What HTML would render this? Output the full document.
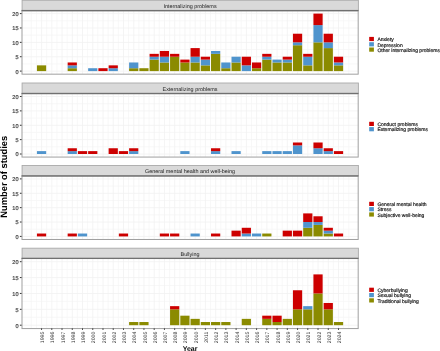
<!DOCTYPE html>
<html><head><meta charset="utf-8"><style>
html,body{margin:0;padding:0;background:#fff;width:440px;height:351px;overflow:hidden}
svg{display:block;will-change:transform;font-family:"Liberation Sans",sans-serif}
text{stroke-width:0.18;paint-order:stroke;text-rendering:geometricPrecision}
</style></head><body>
<svg width="440" height="351" viewBox="0 0 440 351">
<rect x="0" y="0" width="440" height="351" fill="#fff"/>
<path d="M21.58 63.91H358.48M21.58 49.54H358.48M21.58 35.16H358.48M21.58 20.79H358.48M31.31 10.72V73.97M36.43 10.72V73.97M46.67 10.72V73.97M56.91 10.72V73.97M67.15 10.72V73.97M77.39 10.72V73.97M87.63 10.72V73.97M97.87 10.72V73.97M108.11 10.72V73.97M118.35 10.72V73.97M128.59 10.72V73.97M138.83 10.72V73.97M149.07 10.72V73.97M159.31 10.72V73.97M169.55 10.72V73.97M179.79 10.72V73.97M190.03 10.72V73.97M200.27 10.72V73.97M210.51 10.72V73.97M220.75 10.72V73.97M230.99 10.72V73.97M241.23 10.72V73.97M251.47 10.72V73.97M261.71 10.72V73.97M271.95 10.72V73.97M282.19 10.72V73.97M292.43 10.72V73.97M302.67 10.72V73.97M312.91 10.72V73.97M323.15 10.72V73.97M333.39 10.72V73.97M343.63 10.72V73.97M348.75 10.72V73.97" stroke="#f5f5f5" stroke-width="0.7" fill="none"/>
<path d="M21.58 71.10H358.48M21.58 56.72H358.48M21.58 42.35H358.48M21.58 27.97H358.48M21.58 13.60H358.48M41.55 10.72V73.97M51.79 10.72V73.97M62.03 10.72V73.97M72.27 10.72V73.97M82.51 10.72V73.97M92.75 10.72V73.97M102.99 10.72V73.97M113.23 10.72V73.97M123.47 10.72V73.97M133.71 10.72V73.97M143.95 10.72V73.97M154.19 10.72V73.97M164.43 10.72V73.97M174.67 10.72V73.97M184.91 10.72V73.97M195.15 10.72V73.97M205.39 10.72V73.97M215.63 10.72V73.97M225.87 10.72V73.97M236.11 10.72V73.97M246.35 10.72V73.97M256.59 10.72V73.97M266.83 10.72V73.97M277.07 10.72V73.97M287.31 10.72V73.97M297.55 10.72V73.97M307.79 10.72V73.97M318.03 10.72V73.97M328.27 10.72V73.97M338.51 10.72V73.97" stroke="#f1f1f1" stroke-width="0.8" fill="none"/>
<rect x="36.94" y="65.35" width="9.22" height="5.75" fill="#8B8B00"/>
<rect x="67.66" y="68.22" width="9.22" height="2.88" fill="#8B8B00"/>
<rect x="67.66" y="65.35" width="9.22" height="2.88" fill="#4F94CD"/>
<rect x="67.66" y="62.47" width="9.22" height="2.88" fill="#CD0000"/>
<rect x="88.14" y="68.22" width="9.22" height="2.88" fill="#4F94CD"/>
<rect x="98.38" y="68.22" width="9.22" height="2.88" fill="#CD0000"/>
<rect x="108.62" y="68.22" width="9.22" height="2.88" fill="#4F94CD"/>
<rect x="108.62" y="65.35" width="9.22" height="2.88" fill="#CD0000"/>
<rect x="129.10" y="68.22" width="9.22" height="2.88" fill="#8B8B00"/>
<rect x="129.10" y="62.47" width="9.22" height="5.75" fill="#4F94CD"/>
<rect x="139.34" y="68.22" width="9.22" height="2.88" fill="#8B8B00"/>
<rect x="149.58" y="59.60" width="9.22" height="11.50" fill="#8B8B00"/>
<rect x="149.58" y="56.72" width="9.22" height="2.88" fill="#4F94CD"/>
<rect x="149.58" y="53.85" width="9.22" height="2.88" fill="#CD0000"/>
<rect x="159.82" y="62.47" width="9.22" height="8.62" fill="#8B8B00"/>
<rect x="159.82" y="56.72" width="9.22" height="5.75" fill="#4F94CD"/>
<rect x="159.82" y="50.97" width="9.22" height="5.75" fill="#CD0000"/>
<rect x="170.06" y="56.72" width="9.22" height="14.38" fill="#8B8B00"/>
<rect x="170.06" y="53.85" width="9.22" height="2.88" fill="#CD0000"/>
<rect x="180.30" y="62.47" width="9.22" height="8.62" fill="#8B8B00"/>
<rect x="180.30" y="59.60" width="9.22" height="2.88" fill="#CD0000"/>
<rect x="190.54" y="62.47" width="9.22" height="8.62" fill="#8B8B00"/>
<rect x="190.54" y="56.72" width="9.22" height="5.75" fill="#4F94CD"/>
<rect x="190.54" y="48.10" width="9.22" height="8.62" fill="#CD0000"/>
<rect x="200.78" y="65.35" width="9.22" height="5.75" fill="#8B8B00"/>
<rect x="200.78" y="59.60" width="9.22" height="5.75" fill="#4F94CD"/>
<rect x="200.78" y="56.72" width="9.22" height="2.88" fill="#CD0000"/>
<rect x="211.02" y="53.85" width="9.22" height="17.25" fill="#8B8B00"/>
<rect x="211.02" y="50.97" width="9.22" height="2.88" fill="#4F94CD"/>
<rect x="221.26" y="68.22" width="9.22" height="2.88" fill="#8B8B00"/>
<rect x="221.26" y="62.47" width="9.22" height="5.75" fill="#4F94CD"/>
<rect x="231.50" y="62.47" width="9.22" height="8.62" fill="#8B8B00"/>
<rect x="231.50" y="56.72" width="9.22" height="5.75" fill="#4F94CD"/>
<rect x="241.74" y="65.35" width="9.22" height="5.75" fill="#4F94CD"/>
<rect x="241.74" y="56.72" width="9.22" height="8.62" fill="#CD0000"/>
<rect x="251.98" y="68.22" width="9.22" height="2.88" fill="#8B8B00"/>
<rect x="251.98" y="62.47" width="9.22" height="5.75" fill="#CD0000"/>
<rect x="262.22" y="59.60" width="9.22" height="11.50" fill="#8B8B00"/>
<rect x="262.22" y="56.72" width="9.22" height="2.88" fill="#4F94CD"/>
<rect x="262.22" y="53.85" width="9.22" height="2.88" fill="#CD0000"/>
<rect x="272.46" y="62.47" width="9.22" height="8.62" fill="#8B8B00"/>
<rect x="272.46" y="59.60" width="9.22" height="2.88" fill="#4F94CD"/>
<rect x="282.70" y="62.47" width="9.22" height="8.62" fill="#8B8B00"/>
<rect x="282.70" y="59.60" width="9.22" height="2.88" fill="#4F94CD"/>
<rect x="282.70" y="56.72" width="9.22" height="2.88" fill="#CD0000"/>
<rect x="292.94" y="45.22" width="9.22" height="25.88" fill="#8B8B00"/>
<rect x="292.94" y="42.35" width="9.22" height="2.88" fill="#4F94CD"/>
<rect x="292.94" y="33.72" width="9.22" height="8.62" fill="#CD0000"/>
<rect x="303.18" y="65.35" width="9.22" height="5.75" fill="#8B8B00"/>
<rect x="303.18" y="56.72" width="9.22" height="8.62" fill="#4F94CD"/>
<rect x="303.18" y="53.85" width="9.22" height="2.88" fill="#CD0000"/>
<rect x="313.42" y="42.35" width="9.22" height="28.75" fill="#8B8B00"/>
<rect x="313.42" y="25.10" width="9.22" height="17.25" fill="#4F94CD"/>
<rect x="313.42" y="13.60" width="9.22" height="11.50" fill="#CD0000"/>
<rect x="323.66" y="48.10" width="9.22" height="23.00" fill="#8B8B00"/>
<rect x="323.66" y="42.35" width="9.22" height="5.75" fill="#4F94CD"/>
<rect x="323.66" y="33.72" width="9.22" height="8.62" fill="#CD0000"/>
<rect x="333.90" y="65.35" width="9.22" height="5.75" fill="#8B8B00"/>
<rect x="333.90" y="62.47" width="9.22" height="2.88" fill="#4F94CD"/>
<rect x="333.90" y="56.72" width="9.22" height="5.75" fill="#CD0000"/>
<rect x="22.00" y="10.72" width="336.18" height="63.45" fill="none" stroke="#a0a0a0" stroke-width="1.0"/>
<rect x="22.08" y="0.30" width="336.30" height="10.42" fill="#d9d9d9" stroke="#a9a9a9" stroke-width="0.9"/>
<rect x="21.58" y="9.92" width="336.90" height="1.3" fill="#707070"/>
<text x="190.03" y="7.90" font-size="5.45" text-anchor="middle" fill="#222" stroke="none">Internalizing problems</text>
<path d="M19.9 71.10H21.58" stroke="#333" stroke-width="1"/>
<text x="18.5" y="73.50" font-size="5.6" text-anchor="end" fill="#444" stroke="#444" stroke-width="0.06">0</text>
<path d="M19.9 56.72H21.58" stroke="#333" stroke-width="1"/>
<text x="18.5" y="59.12" font-size="5.6" text-anchor="end" fill="#444" stroke="#444" stroke-width="0.06">5</text>
<path d="M19.9 42.35H21.58" stroke="#333" stroke-width="1"/>
<text x="18.5" y="44.75" font-size="5.6" text-anchor="end" fill="#444" stroke="#444" stroke-width="0.06">10</text>
<path d="M19.9 27.97H21.58" stroke="#333" stroke-width="1"/>
<text x="18.5" y="30.37" font-size="5.6" text-anchor="end" fill="#444" stroke="#444" stroke-width="0.06">15</text>
<path d="M19.9 13.60H21.58" stroke="#333" stroke-width="1"/>
<text x="18.5" y="16.00" font-size="5.6" text-anchor="end" fill="#444" stroke="#444" stroke-width="0.06">20</text>
<rect x="369.2" y="36.90" width="4.7" height="4.2" fill="#CD0000"/>
<text x="377.4" y="41.20" font-size="5.0" fill="#1a1a1a" stroke="#1a1a1a" stroke-width="0.1">Anxiety</text>
<rect x="369.2" y="42.20" width="4.7" height="4.2" fill="#4F94CD"/>
<text x="377.4" y="46.50" font-size="5.0" fill="#1a1a1a" stroke="#1a1a1a" stroke-width="0.1">Depression</text>
<rect x="369.2" y="47.50" width="4.7" height="4.2" fill="#8B8B00"/>
<text x="377.4" y="51.80" font-size="5.0" fill="#1a1a1a" stroke="#1a1a1a" stroke-width="0.1">Other internalizing problems</text>
<path d="M21.58 146.81H358.48M21.58 132.44H358.48M21.58 118.06H358.48M21.58 103.69H358.48M31.31 93.62V156.88M36.43 93.62V156.88M46.67 93.62V156.88M56.91 93.62V156.88M67.15 93.62V156.88M77.39 93.62V156.88M87.63 93.62V156.88M97.87 93.62V156.88M108.11 93.62V156.88M118.35 93.62V156.88M128.59 93.62V156.88M138.83 93.62V156.88M149.07 93.62V156.88M159.31 93.62V156.88M169.55 93.62V156.88M179.79 93.62V156.88M190.03 93.62V156.88M200.27 93.62V156.88M210.51 93.62V156.88M220.75 93.62V156.88M230.99 93.62V156.88M241.23 93.62V156.88M251.47 93.62V156.88M261.71 93.62V156.88M271.95 93.62V156.88M282.19 93.62V156.88M292.43 93.62V156.88M302.67 93.62V156.88M312.91 93.62V156.88M323.15 93.62V156.88M333.39 93.62V156.88M343.63 93.62V156.88M348.75 93.62V156.88" stroke="#f5f5f5" stroke-width="0.7" fill="none"/>
<path d="M21.58 154.00H358.48M21.58 139.62H358.48M21.58 125.25H358.48M21.58 110.88H358.48M21.58 96.50H358.48M41.55 93.62V156.88M51.79 93.62V156.88M62.03 93.62V156.88M72.27 93.62V156.88M82.51 93.62V156.88M92.75 93.62V156.88M102.99 93.62V156.88M113.23 93.62V156.88M123.47 93.62V156.88M133.71 93.62V156.88M143.95 93.62V156.88M154.19 93.62V156.88M164.43 93.62V156.88M174.67 93.62V156.88M184.91 93.62V156.88M195.15 93.62V156.88M205.39 93.62V156.88M215.63 93.62V156.88M225.87 93.62V156.88M236.11 93.62V156.88M246.35 93.62V156.88M256.59 93.62V156.88M266.83 93.62V156.88M277.07 93.62V156.88M287.31 93.62V156.88M297.55 93.62V156.88M307.79 93.62V156.88M318.03 93.62V156.88M328.27 93.62V156.88M338.51 93.62V156.88" stroke="#f1f1f1" stroke-width="0.8" fill="none"/>
<rect x="36.94" y="151.12" width="9.22" height="2.88" fill="#4F94CD"/>
<rect x="67.66" y="151.12" width="9.22" height="2.88" fill="#4F94CD"/>
<rect x="67.66" y="148.25" width="9.22" height="2.88" fill="#CD0000"/>
<rect x="77.90" y="151.12" width="9.22" height="2.88" fill="#CD0000"/>
<rect x="88.14" y="151.12" width="9.22" height="2.88" fill="#CD0000"/>
<rect x="108.62" y="148.25" width="9.22" height="5.75" fill="#CD0000"/>
<rect x="118.86" y="151.12" width="9.22" height="2.88" fill="#CD0000"/>
<rect x="129.10" y="151.12" width="9.22" height="2.88" fill="#4F94CD"/>
<rect x="129.10" y="148.25" width="9.22" height="2.88" fill="#CD0000"/>
<rect x="180.30" y="151.12" width="9.22" height="2.88" fill="#4F94CD"/>
<rect x="211.02" y="151.12" width="9.22" height="2.88" fill="#4F94CD"/>
<rect x="211.02" y="148.25" width="9.22" height="2.88" fill="#CD0000"/>
<rect x="231.50" y="151.12" width="9.22" height="2.88" fill="#4F94CD"/>
<rect x="262.22" y="151.12" width="9.22" height="2.88" fill="#4F94CD"/>
<rect x="272.46" y="151.12" width="9.22" height="2.88" fill="#4F94CD"/>
<rect x="282.70" y="151.12" width="9.22" height="2.88" fill="#4F94CD"/>
<rect x="292.94" y="145.38" width="9.22" height="8.62" fill="#4F94CD"/>
<rect x="292.94" y="142.50" width="9.22" height="2.88" fill="#CD0000"/>
<rect x="313.42" y="148.25" width="9.22" height="5.75" fill="#4F94CD"/>
<rect x="313.42" y="142.50" width="9.22" height="5.75" fill="#CD0000"/>
<rect x="323.66" y="151.12" width="9.22" height="2.88" fill="#4F94CD"/>
<rect x="323.66" y="148.25" width="9.22" height="2.88" fill="#CD0000"/>
<rect x="333.90" y="151.12" width="9.22" height="2.88" fill="#CD0000"/>
<rect x="22.00" y="93.62" width="336.18" height="63.45" fill="none" stroke="#a0a0a0" stroke-width="1.0"/>
<rect x="22.08" y="83.00" width="336.30" height="10.62" fill="#d9d9d9" stroke="#a9a9a9" stroke-width="0.9"/>
<rect x="21.58" y="92.83" width="336.90" height="1.3" fill="#707070"/>
<text x="190.03" y="90.60" font-size="5.45" text-anchor="middle" fill="#222" stroke="none">Externalizing problems</text>
<path d="M19.9 154.00H21.58" stroke="#333" stroke-width="1"/>
<text x="18.5" y="156.40" font-size="5.6" text-anchor="end" fill="#444" stroke="#444" stroke-width="0.06">0</text>
<path d="M19.9 139.62H21.58" stroke="#333" stroke-width="1"/>
<text x="18.5" y="142.03" font-size="5.6" text-anchor="end" fill="#444" stroke="#444" stroke-width="0.06">5</text>
<path d="M19.9 125.25H21.58" stroke="#333" stroke-width="1"/>
<text x="18.5" y="127.65" font-size="5.6" text-anchor="end" fill="#444" stroke="#444" stroke-width="0.06">10</text>
<path d="M19.9 110.88H21.58" stroke="#333" stroke-width="1"/>
<text x="18.5" y="113.28" font-size="5.6" text-anchor="end" fill="#444" stroke="#444" stroke-width="0.06">15</text>
<path d="M19.9 96.50H21.58" stroke="#333" stroke-width="1"/>
<text x="18.5" y="98.90" font-size="5.6" text-anchor="end" fill="#444" stroke="#444" stroke-width="0.06">20</text>
<rect x="369.2" y="121.80" width="4.7" height="4.2" fill="#CD0000"/>
<text x="377.4" y="126.10" font-size="5.0" fill="#1a1a1a" stroke="#1a1a1a" stroke-width="0.1">Conduct problems</text>
<rect x="369.2" y="127.10" width="4.7" height="4.2" fill="#4F94CD"/>
<text x="377.4" y="131.40" font-size="5.0" fill="#1a1a1a" stroke="#1a1a1a" stroke-width="0.1">Externalizing problems</text>
<path d="M21.58 229.21H358.48M21.58 214.84H358.48M21.58 200.46H358.48M21.58 186.09H358.48M31.31 176.03V239.28M36.43 176.03V239.28M46.67 176.03V239.28M56.91 176.03V239.28M67.15 176.03V239.28M77.39 176.03V239.28M87.63 176.03V239.28M97.87 176.03V239.28M108.11 176.03V239.28M118.35 176.03V239.28M128.59 176.03V239.28M138.83 176.03V239.28M149.07 176.03V239.28M159.31 176.03V239.28M169.55 176.03V239.28M179.79 176.03V239.28M190.03 176.03V239.28M200.27 176.03V239.28M210.51 176.03V239.28M220.75 176.03V239.28M230.99 176.03V239.28M241.23 176.03V239.28M251.47 176.03V239.28M261.71 176.03V239.28M271.95 176.03V239.28M282.19 176.03V239.28M292.43 176.03V239.28M302.67 176.03V239.28M312.91 176.03V239.28M323.15 176.03V239.28M333.39 176.03V239.28M343.63 176.03V239.28M348.75 176.03V239.28" stroke="#f5f5f5" stroke-width="0.7" fill="none"/>
<path d="M21.58 236.40H358.48M21.58 222.03H358.48M21.58 207.65H358.48M21.58 193.28H358.48M21.58 178.90H358.48M41.55 176.03V239.28M51.79 176.03V239.28M62.03 176.03V239.28M72.27 176.03V239.28M82.51 176.03V239.28M92.75 176.03V239.28M102.99 176.03V239.28M113.23 176.03V239.28M123.47 176.03V239.28M133.71 176.03V239.28M143.95 176.03V239.28M154.19 176.03V239.28M164.43 176.03V239.28M174.67 176.03V239.28M184.91 176.03V239.28M195.15 176.03V239.28M205.39 176.03V239.28M215.63 176.03V239.28M225.87 176.03V239.28M236.11 176.03V239.28M246.35 176.03V239.28M256.59 176.03V239.28M266.83 176.03V239.28M277.07 176.03V239.28M287.31 176.03V239.28M297.55 176.03V239.28M307.79 176.03V239.28M318.03 176.03V239.28M328.27 176.03V239.28M338.51 176.03V239.28" stroke="#f1f1f1" stroke-width="0.8" fill="none"/>
<rect x="36.94" y="233.53" width="9.22" height="2.88" fill="#CD0000"/>
<rect x="67.66" y="233.53" width="9.22" height="2.88" fill="#CD0000"/>
<rect x="77.90" y="233.53" width="9.22" height="2.88" fill="#4F94CD"/>
<rect x="118.86" y="233.53" width="9.22" height="2.88" fill="#CD0000"/>
<rect x="159.82" y="233.53" width="9.22" height="2.88" fill="#CD0000"/>
<rect x="170.06" y="233.53" width="9.22" height="2.88" fill="#CD0000"/>
<rect x="190.54" y="233.53" width="9.22" height="2.88" fill="#4F94CD"/>
<rect x="211.02" y="233.53" width="9.22" height="2.88" fill="#CD0000"/>
<rect x="231.50" y="230.65" width="9.22" height="5.75" fill="#CD0000"/>
<rect x="241.74" y="233.53" width="9.22" height="2.88" fill="#4F94CD"/>
<rect x="241.74" y="227.78" width="9.22" height="5.75" fill="#CD0000"/>
<rect x="251.98" y="233.53" width="9.22" height="2.88" fill="#4F94CD"/>
<rect x="262.22" y="233.53" width="9.22" height="2.88" fill="#8B8B00"/>
<rect x="282.70" y="230.65" width="9.22" height="5.75" fill="#CD0000"/>
<rect x="292.94" y="230.65" width="9.22" height="5.75" fill="#CD0000"/>
<rect x="303.18" y="227.78" width="9.22" height="8.62" fill="#8B8B00"/>
<rect x="303.18" y="222.03" width="9.22" height="5.75" fill="#4F94CD"/>
<rect x="303.18" y="213.40" width="9.22" height="8.62" fill="#CD0000"/>
<rect x="313.42" y="224.90" width="9.22" height="11.50" fill="#8B8B00"/>
<rect x="313.42" y="222.03" width="9.22" height="2.88" fill="#4F94CD"/>
<rect x="313.42" y="216.28" width="9.22" height="5.75" fill="#CD0000"/>
<rect x="323.66" y="233.53" width="9.22" height="2.88" fill="#8B8B00"/>
<rect x="323.66" y="230.65" width="9.22" height="2.88" fill="#4F94CD"/>
<rect x="323.66" y="227.78" width="9.22" height="2.88" fill="#CD0000"/>
<rect x="333.90" y="233.53" width="9.22" height="2.88" fill="#CD0000"/>
<rect x="22.00" y="176.03" width="336.18" height="63.45" fill="none" stroke="#a0a0a0" stroke-width="1.0"/>
<rect x="22.08" y="165.50" width="336.30" height="10.53" fill="#d9d9d9" stroke="#a9a9a9" stroke-width="0.9"/>
<rect x="21.58" y="175.22" width="336.90" height="1.3" fill="#707070"/>
<text x="190.03" y="173.10" font-size="5.45" text-anchor="middle" fill="#222" stroke="none">General mental health and well-being</text>
<path d="M19.9 236.40H21.58" stroke="#333" stroke-width="1"/>
<text x="18.5" y="238.80" font-size="5.6" text-anchor="end" fill="#444" stroke="#444" stroke-width="0.06">0</text>
<path d="M19.9 222.03H21.58" stroke="#333" stroke-width="1"/>
<text x="18.5" y="224.43" font-size="5.6" text-anchor="end" fill="#444" stroke="#444" stroke-width="0.06">5</text>
<path d="M19.9 207.65H21.58" stroke="#333" stroke-width="1"/>
<text x="18.5" y="210.05" font-size="5.6" text-anchor="end" fill="#444" stroke="#444" stroke-width="0.06">10</text>
<path d="M19.9 193.28H21.58" stroke="#333" stroke-width="1"/>
<text x="18.5" y="195.68" font-size="5.6" text-anchor="end" fill="#444" stroke="#444" stroke-width="0.06">15</text>
<path d="M19.9 178.90H21.58" stroke="#333" stroke-width="1"/>
<text x="18.5" y="181.30" font-size="5.6" text-anchor="end" fill="#444" stroke="#444" stroke-width="0.06">20</text>
<rect x="369.2" y="201.80" width="4.7" height="4.2" fill="#CD0000"/>
<text x="377.4" y="206.10" font-size="5.0" fill="#1a1a1a" stroke="#1a1a1a" stroke-width="0.1">General mental health</text>
<rect x="369.2" y="207.10" width="4.7" height="4.2" fill="#4F94CD"/>
<text x="377.4" y="211.40" font-size="5.0" fill="#1a1a1a" stroke="#1a1a1a" stroke-width="0.1">Stress</text>
<rect x="369.2" y="212.40" width="4.7" height="4.2" fill="#8B8B00"/>
<text x="377.4" y="216.70" font-size="5.0" fill="#1a1a1a" stroke="#1a1a1a" stroke-width="0.1">Subjective well-being</text>
<path d="M21.58 317.26H358.48M21.58 301.39H358.48M21.58 285.51H358.48M21.58 269.64H358.48M31.31 258.52V328.38M36.43 258.52V328.38M46.67 258.52V328.38M56.91 258.52V328.38M67.15 258.52V328.38M77.39 258.52V328.38M87.63 258.52V328.38M97.87 258.52V328.38M108.11 258.52V328.38M118.35 258.52V328.38M128.59 258.52V328.38M138.83 258.52V328.38M149.07 258.52V328.38M159.31 258.52V328.38M169.55 258.52V328.38M179.79 258.52V328.38M190.03 258.52V328.38M200.27 258.52V328.38M210.51 258.52V328.38M220.75 258.52V328.38M230.99 258.52V328.38M241.23 258.52V328.38M251.47 258.52V328.38M261.71 258.52V328.38M271.95 258.52V328.38M282.19 258.52V328.38M292.43 258.52V328.38M302.67 258.52V328.38M312.91 258.52V328.38M323.15 258.52V328.38M333.39 258.52V328.38M343.63 258.52V328.38M348.75 258.52V328.38" stroke="#f5f5f5" stroke-width="0.7" fill="none"/>
<path d="M21.58 325.20H358.48M21.58 309.32H358.48M21.58 293.45H358.48M21.58 277.57H358.48M21.58 261.70H358.48M41.55 258.52V328.38M51.79 258.52V328.38M62.03 258.52V328.38M72.27 258.52V328.38M82.51 258.52V328.38M92.75 258.52V328.38M102.99 258.52V328.38M113.23 258.52V328.38M123.47 258.52V328.38M133.71 258.52V328.38M143.95 258.52V328.38M154.19 258.52V328.38M164.43 258.52V328.38M174.67 258.52V328.38M184.91 258.52V328.38M195.15 258.52V328.38M205.39 258.52V328.38M215.63 258.52V328.38M225.87 258.52V328.38M236.11 258.52V328.38M246.35 258.52V328.38M256.59 258.52V328.38M266.83 258.52V328.38M277.07 258.52V328.38M287.31 258.52V328.38M297.55 258.52V328.38M307.79 258.52V328.38M318.03 258.52V328.38M328.27 258.52V328.38M338.51 258.52V328.38" stroke="#f1f1f1" stroke-width="0.8" fill="none"/>
<rect x="129.10" y="322.02" width="9.22" height="3.17" fill="#8B8B00"/>
<rect x="139.34" y="322.02" width="9.22" height="3.17" fill="#8B8B00"/>
<rect x="170.06" y="309.32" width="9.22" height="15.88" fill="#8B8B00"/>
<rect x="170.06" y="306.15" width="9.22" height="3.17" fill="#CD0000"/>
<rect x="180.30" y="315.68" width="9.22" height="9.52" fill="#8B8B00"/>
<rect x="190.54" y="318.85" width="9.22" height="6.35" fill="#8B8B00"/>
<rect x="200.78" y="322.02" width="9.22" height="3.17" fill="#8B8B00"/>
<rect x="211.02" y="322.02" width="9.22" height="3.17" fill="#8B8B00"/>
<rect x="221.26" y="322.02" width="9.22" height="3.17" fill="#8B8B00"/>
<rect x="241.74" y="318.85" width="9.22" height="6.35" fill="#8B8B00"/>
<rect x="262.22" y="318.85" width="9.22" height="6.35" fill="#8B8B00"/>
<rect x="262.22" y="315.68" width="9.22" height="3.17" fill="#CD0000"/>
<rect x="272.46" y="322.02" width="9.22" height="3.17" fill="#8B8B00"/>
<rect x="272.46" y="315.68" width="9.22" height="6.35" fill="#CD0000"/>
<rect x="282.70" y="318.85" width="9.22" height="6.35" fill="#8B8B00"/>
<rect x="292.94" y="309.32" width="9.22" height="15.88" fill="#8B8B00"/>
<rect x="292.94" y="290.27" width="9.22" height="19.05" fill="#CD0000"/>
<rect x="303.18" y="309.32" width="9.22" height="15.88" fill="#8B8B00"/>
<rect x="303.18" y="306.15" width="9.22" height="3.17" fill="#4F94CD"/>
<rect x="313.42" y="293.45" width="9.22" height="31.75" fill="#8B8B00"/>
<rect x="313.42" y="274.40" width="9.22" height="19.05" fill="#CD0000"/>
<rect x="323.66" y="309.32" width="9.22" height="15.88" fill="#8B8B00"/>
<rect x="323.66" y="302.97" width="9.22" height="6.35" fill="#CD0000"/>
<rect x="333.90" y="322.02" width="9.22" height="3.17" fill="#8B8B00"/>
<rect x="22.00" y="258.52" width="336.18" height="70.05" fill="none" stroke="#a0a0a0" stroke-width="1.0"/>
<rect x="22.08" y="248.20" width="336.30" height="10.32" fill="#d9d9d9" stroke="#a9a9a9" stroke-width="0.9"/>
<rect x="21.58" y="257.72" width="336.90" height="1.3" fill="#707070"/>
<text x="190.03" y="255.80" font-size="5.45" text-anchor="middle" fill="#222" stroke="none">Bullying</text>
<path d="M19.9 325.20H21.58" stroke="#333" stroke-width="1"/>
<text x="18.5" y="327.60" font-size="5.6" text-anchor="end" fill="#444" stroke="#444" stroke-width="0.06">0</text>
<path d="M19.9 309.32H21.58" stroke="#333" stroke-width="1"/>
<text x="18.5" y="311.72" font-size="5.6" text-anchor="end" fill="#444" stroke="#444" stroke-width="0.06">5</text>
<path d="M19.9 293.45H21.58" stroke="#333" stroke-width="1"/>
<text x="18.5" y="295.85" font-size="5.6" text-anchor="end" fill="#444" stroke="#444" stroke-width="0.06">10</text>
<path d="M19.9 277.57H21.58" stroke="#333" stroke-width="1"/>
<text x="18.5" y="279.97" font-size="5.6" text-anchor="end" fill="#444" stroke="#444" stroke-width="0.06">15</text>
<path d="M19.9 261.70H21.58" stroke="#333" stroke-width="1"/>
<text x="18.5" y="264.10" font-size="5.6" text-anchor="end" fill="#444" stroke="#444" stroke-width="0.06">20</text>
<rect x="369.2" y="287.70" width="4.7" height="4.2" fill="#CD0000"/>
<text x="377.4" y="292.00" font-size="5.0" fill="#1a1a1a" stroke="#1a1a1a" stroke-width="0.1">Cyberbullying</text>
<rect x="369.2" y="293.00" width="4.7" height="4.2" fill="#4F94CD"/>
<text x="377.4" y="297.30" font-size="5.0" fill="#1a1a1a" stroke="#1a1a1a" stroke-width="0.1">Sexual bullying</text>
<rect x="369.2" y="298.30" width="4.7" height="4.2" fill="#8B8B00"/>
<text x="377.4" y="302.60" font-size="5.0" fill="#1a1a1a" stroke="#1a1a1a" stroke-width="0.1">Traditional bullying</text>
<path d="M41.55 328.38V329.88" stroke="#333" stroke-width="1"/>
<text transform="translate(44.10 331.7) rotate(-90)" font-size="5.2" text-anchor="end" fill="#333" stroke="none">1995</text>
<path d="M51.79 328.38V329.88" stroke="#333" stroke-width="1"/>
<text transform="translate(54.34 331.7) rotate(-90)" font-size="5.2" text-anchor="end" fill="#333" stroke="none">1996</text>
<path d="M62.03 328.38V329.88" stroke="#333" stroke-width="1"/>
<text transform="translate(64.58 331.7) rotate(-90)" font-size="5.2" text-anchor="end" fill="#333" stroke="none">1997</text>
<path d="M72.27 328.38V329.88" stroke="#333" stroke-width="1"/>
<text transform="translate(74.82 331.7) rotate(-90)" font-size="5.2" text-anchor="end" fill="#333" stroke="none">1998</text>
<path d="M82.51 328.38V329.88" stroke="#333" stroke-width="1"/>
<text transform="translate(85.06 331.7) rotate(-90)" font-size="5.2" text-anchor="end" fill="#333" stroke="none">1999</text>
<path d="M92.75 328.38V329.88" stroke="#333" stroke-width="1"/>
<text transform="translate(95.30 331.7) rotate(-90)" font-size="5.2" text-anchor="end" fill="#333" stroke="none">2000</text>
<path d="M102.99 328.38V329.88" stroke="#333" stroke-width="1"/>
<text transform="translate(105.54 331.7) rotate(-90)" font-size="5.2" text-anchor="end" fill="#333" stroke="none">2001</text>
<path d="M113.23 328.38V329.88" stroke="#333" stroke-width="1"/>
<text transform="translate(115.78 331.7) rotate(-90)" font-size="5.2" text-anchor="end" fill="#333" stroke="none">2002</text>
<path d="M123.47 328.38V329.88" stroke="#333" stroke-width="1"/>
<text transform="translate(126.02 331.7) rotate(-90)" font-size="5.2" text-anchor="end" fill="#333" stroke="none">2003</text>
<path d="M133.71 328.38V329.88" stroke="#333" stroke-width="1"/>
<text transform="translate(136.26 331.7) rotate(-90)" font-size="5.2" text-anchor="end" fill="#333" stroke="none">2004</text>
<path d="M143.95 328.38V329.88" stroke="#333" stroke-width="1"/>
<text transform="translate(146.50 331.7) rotate(-90)" font-size="5.2" text-anchor="end" fill="#333" stroke="none">2005</text>
<path d="M154.19 328.38V329.88" stroke="#333" stroke-width="1"/>
<text transform="translate(156.74 331.7) rotate(-90)" font-size="5.2" text-anchor="end" fill="#333" stroke="none">2006</text>
<path d="M164.43 328.38V329.88" stroke="#333" stroke-width="1"/>
<text transform="translate(166.98 331.7) rotate(-90)" font-size="5.2" text-anchor="end" fill="#333" stroke="none">2007</text>
<path d="M174.67 328.38V329.88" stroke="#333" stroke-width="1"/>
<text transform="translate(177.22 331.7) rotate(-90)" font-size="5.2" text-anchor="end" fill="#333" stroke="none">2008</text>
<path d="M184.91 328.38V329.88" stroke="#333" stroke-width="1"/>
<text transform="translate(187.46 331.7) rotate(-90)" font-size="5.2" text-anchor="end" fill="#333" stroke="none">2009</text>
<path d="M195.15 328.38V329.88" stroke="#333" stroke-width="1"/>
<text transform="translate(197.70 331.7) rotate(-90)" font-size="5.2" text-anchor="end" fill="#333" stroke="none">2010</text>
<path d="M205.39 328.38V329.88" stroke="#333" stroke-width="1"/>
<text transform="translate(207.94 331.7) rotate(-90)" font-size="5.2" text-anchor="end" fill="#333" stroke="none">2011</text>
<path d="M215.63 328.38V329.88" stroke="#333" stroke-width="1"/>
<text transform="translate(218.18 331.7) rotate(-90)" font-size="5.2" text-anchor="end" fill="#333" stroke="none">2012</text>
<path d="M225.87 328.38V329.88" stroke="#333" stroke-width="1"/>
<text transform="translate(228.42 331.7) rotate(-90)" font-size="5.2" text-anchor="end" fill="#333" stroke="none">2013</text>
<path d="M236.11 328.38V329.88" stroke="#333" stroke-width="1"/>
<text transform="translate(238.66 331.7) rotate(-90)" font-size="5.2" text-anchor="end" fill="#333" stroke="none">2014</text>
<path d="M246.35 328.38V329.88" stroke="#333" stroke-width="1"/>
<text transform="translate(248.90 331.7) rotate(-90)" font-size="5.2" text-anchor="end" fill="#333" stroke="none">2015</text>
<path d="M256.59 328.38V329.88" stroke="#333" stroke-width="1"/>
<text transform="translate(259.14 331.7) rotate(-90)" font-size="5.2" text-anchor="end" fill="#333" stroke="none">2016</text>
<path d="M266.83 328.38V329.88" stroke="#333" stroke-width="1"/>
<text transform="translate(269.38 331.7) rotate(-90)" font-size="5.2" text-anchor="end" fill="#333" stroke="none">2017</text>
<path d="M277.07 328.38V329.88" stroke="#333" stroke-width="1"/>
<text transform="translate(279.62 331.7) rotate(-90)" font-size="5.2" text-anchor="end" fill="#333" stroke="none">2018</text>
<path d="M287.31 328.38V329.88" stroke="#333" stroke-width="1"/>
<text transform="translate(289.86 331.7) rotate(-90)" font-size="5.2" text-anchor="end" fill="#333" stroke="none">2019</text>
<path d="M297.55 328.38V329.88" stroke="#333" stroke-width="1"/>
<text transform="translate(300.10 331.7) rotate(-90)" font-size="5.2" text-anchor="end" fill="#333" stroke="none">2020</text>
<path d="M307.79 328.38V329.88" stroke="#333" stroke-width="1"/>
<text transform="translate(310.34 331.7) rotate(-90)" font-size="5.2" text-anchor="end" fill="#333" stroke="none">2021</text>
<path d="M318.03 328.38V329.88" stroke="#333" stroke-width="1"/>
<text transform="translate(320.58 331.7) rotate(-90)" font-size="5.2" text-anchor="end" fill="#333" stroke="none">2022</text>
<path d="M328.27 328.38V329.88" stroke="#333" stroke-width="1"/>
<text transform="translate(330.82 331.7) rotate(-90)" font-size="5.2" text-anchor="end" fill="#333" stroke="none">2023</text>
<path d="M338.51 328.38V329.88" stroke="#333" stroke-width="1"/>
<text transform="translate(341.06 331.7) rotate(-90)" font-size="5.2" text-anchor="end" fill="#333" stroke="none">2024</text>
<text transform="translate(7.0 176.8) rotate(-90)" font-size="9.33" font-weight="bold" text-anchor="middle" fill="#000">Number of studies</text>
<text x="190.1" y="350.6" font-size="7.0" font-weight="bold" text-anchor="middle" fill="#000">Year</text>
</svg>
</body></html>
